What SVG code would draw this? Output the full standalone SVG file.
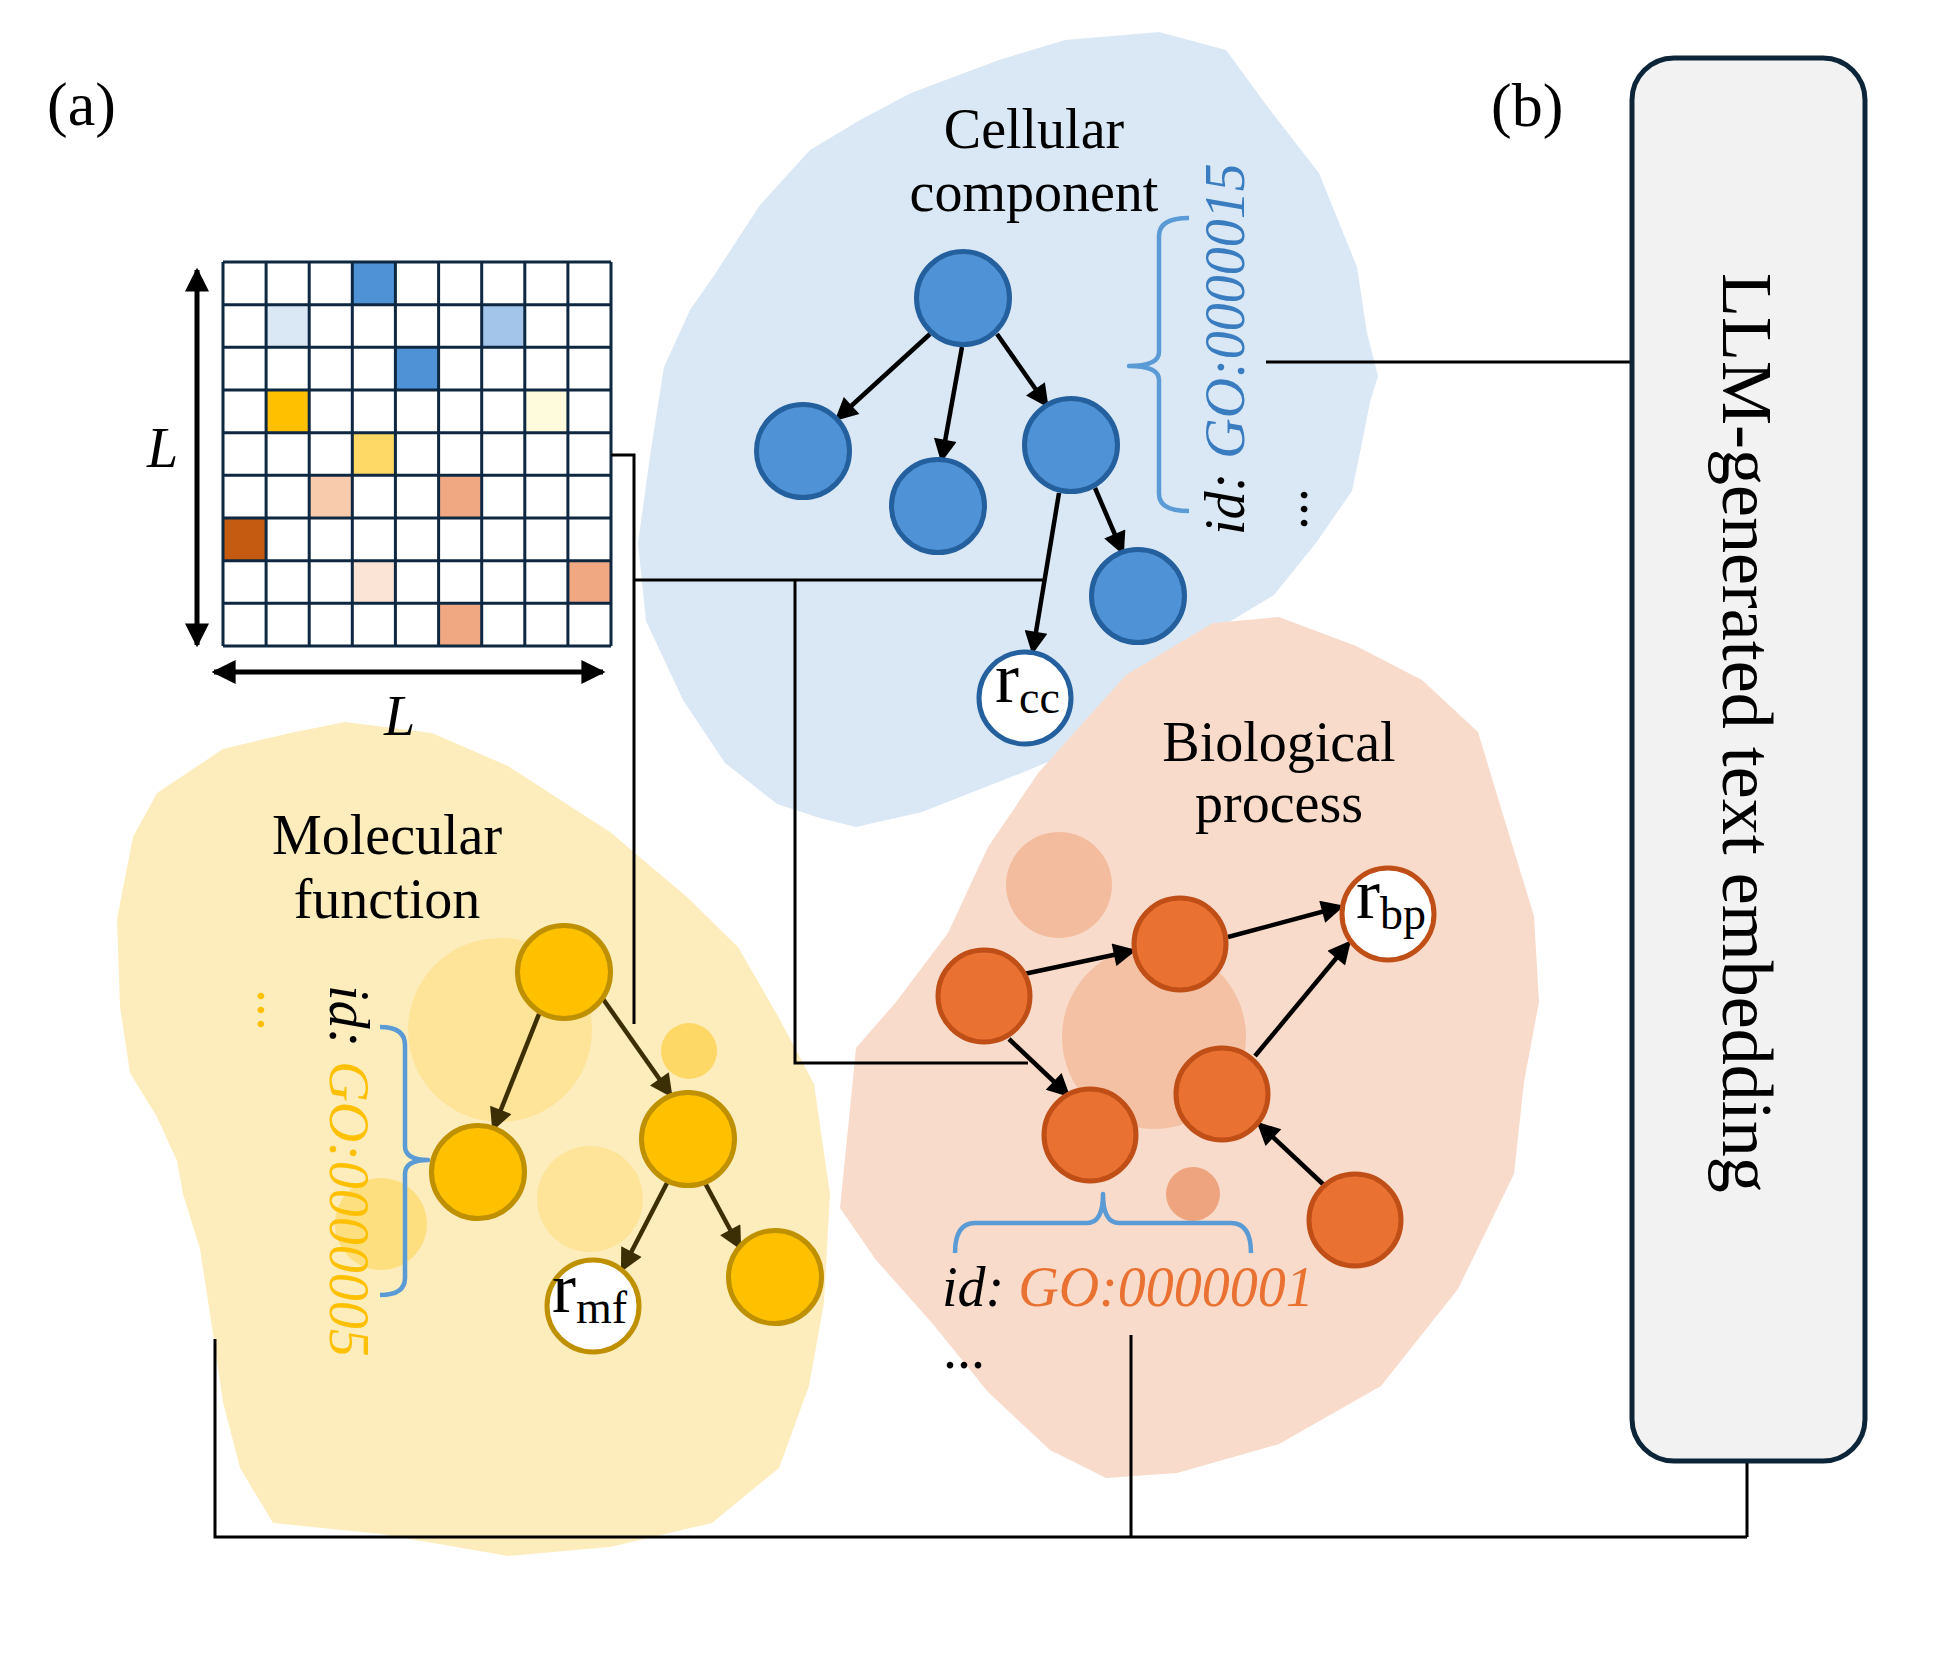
<svg xmlns="http://www.w3.org/2000/svg" width="1956" height="1656" viewBox="0 0 1956 1656">
<style>
text{font-family:"Liberation Serif","Times New Roman",serif;fill:#000}
.lbl{font-size:56px;text-anchor:middle}
.it{font-style:italic}
.conn{fill:none;stroke:#000;stroke-width:3}
.bn{fill:#4f93d6;stroke:#24609e;stroke-width:5}
.yn{fill:#ffc000;stroke:#bf9000;stroke-width:5}
.on{fill:#e97132;stroke:#c04f17;stroke-width:5}
.rn{fill:#fff}
.arr{fill:none;stroke:#000;stroke-width:4.5;marker-end:url(#ah)}
.arrY{fill:none;stroke:#3d2f05;stroke-width:4.5;marker-end:url(#ahY)}
.brace{fill:none;stroke:#5b9bd5;stroke-width:4.5;stroke-linejoin:round}
.g{fill:none;stroke:#0e2841;stroke-width:3}
.r{font-size:72px}
.sub{font-size:46px}
.dots{font-size:56px}
</style>
<defs>
<marker id="ah" viewBox="0 0 10 10" refX="8" refY="5" markerUnits="userSpaceOnUse" markerWidth="28" markerHeight="23" orient="auto"><path d="M0,0 L10,5 L0,10 z" fill="#000"/></marker>
<marker id="ahY" viewBox="0 0 10 10" refX="8" refY="5" markerUnits="userSpaceOnUse" markerWidth="28" markerHeight="23" orient="auto"><path d="M0,0 L10,5 L0,10 z" fill="#3d2f05"/></marker>
<marker id="dh" viewBox="0 0 10 10" refX="9" refY="5" markerUnits="userSpaceOnUse" markerWidth="24" markerHeight="24" orient="auto-start-reverse"><path d="M0,0 L10,5 L0,10 z" fill="#000"/></marker>
</defs>
<rect width="1956" height="1656" fill="#fff"/>

<g id="blobs">
<polygon id="blob-cc" fill="#dae8f5" points="1159,32 1226,50 1270,110 1319,173 1357,267 1367,333 1378,376 1370,402 1363,438 1352,491 1316,543 1274,595 1221,627 1180,680 1100,740 1024,772 922,812 856,827 820,818 777,804 725,763 683,700 646,621 638,543 651,449 664,367 690,310 713,277 760,205 810,150 860,120 911,93 999,60 1065,40"/>
<polygon id="blob-mf" fill="#fdedbd" points="345,722 290,733 223,749 157,793 133,837 117,919 120,1007 130,1073 157,1117 177,1161 183,1194 200,1249 210,1314 223,1402 240,1468 273,1523 381,1534 508,1556 610,1547 712,1523 779,1468 809,1386 824,1303 830,1194 814,1084 779,1018 738,947 687,897 610,832 508,766 432,733"/>
<polygon id="blob-bp" fill="#f8dbca" points="1039,772 988,847 948,933 896,1002 856,1048 851,1099 840,1208 876,1260 932,1323 988,1392 1050,1450 1106,1478 1177,1473 1279,1444 1381,1386 1458,1289 1514,1174 1524,1082 1539,1002 1534,916 1504,818 1478,732 1422,680 1356,646 1279,617 1213,623 1126,675 1065,743"/>
</g>

<g id="bg-circles">
<circle cx="500" cy="1030" r="92" fill="#fde08c" opacity="0.75"/>
<circle cx="689" cy="1051" r="28" fill="#fdd866"/>
<circle cx="590" cy="1199" r="53" fill="#fde08c" opacity="0.75"/>
<circle cx="381" cy="1224" r="46" fill="#fdd866" opacity="0.7"/>
<circle cx="1059" cy="885" r="53" fill="#f4bc9e"/>
<circle cx="1154" cy="1037" r="92" fill="#f4c1a4"/>
<circle cx="1193" cy="1194" r="27" fill="#eea47f"/>
</g>

<g id="matrix">
<rect x="352.3" y="262" width="43.1" height="42.7" fill="#4f93d6"/>
<rect x="266.1" y="304.7" width="43.1" height="42.7" fill="#dae8f6"/>
<rect x="481.7" y="304.7" width="43.1" height="42.7" fill="#a3c5ea"/>
<rect x="395.4" y="347.3" width="43.1" height="42.7" fill="#4f93d6"/>
<rect x="266.1" y="390" width="43.1" height="42.7" fill="#ffc000"/>
<rect x="524.8" y="390" width="43.1" height="42.7" fill="#fefbdc"/>
<rect x="352.3" y="432.7" width="43.1" height="42.7" fill="#ffd966"/>
<rect x="309.2" y="475.3" width="43.1" height="42.7" fill="#f8cbad"/>
<rect x="438.6" y="475.3" width="43.1" height="42.7" fill="#f0a882"/>
<rect x="223" y="518" width="43.1" height="42.7" fill="#c55a11"/>
<rect x="352.3" y="560.7" width="43.1" height="42.7" fill="#fbe3d6"/>
<rect x="567.9" y="560.7" width="43.1" height="42.7" fill="#f0a882"/>
<rect x="438.6" y="603.3" width="43.1" height="42.7" fill="#f0a882"/>
<path class="g" d="M223,262V646M266.1,262V646M309.2,262V646M352.3,262V646M395.4,262V646M438.6,262V646M481.7,262V646M524.8,262V646M567.9,262V646M611,262V646M223,262H611M223,304.7H611M223,347.3H611M223,390H611M223,432.7H611M223,475.3H611M223,518H611M223,560.7H611M223,603.3H611M223,646H611"/>
<line x1="197" y1="270" x2="197" y2="645" stroke="#000" stroke-width="5" marker-start="url(#dh)" marker-end="url(#dh)"/>
<line x1="214" y1="672" x2="603" y2="672" stroke="#000" stroke-width="5" marker-start="url(#dh)" marker-end="url(#dh)"/>
<text class="it" x="147" y="467" font-size="56">L</text>
<text class="it" x="384" y="735" font-size="56">L</text>
</g>

<g id="connectors">
<path class="conn" d="M611,455 H634 V1024"/>
<path class="conn" d="M634,580 H1046"/>
<path class="conn" d="M795,580 V1063 H1028"/>
<path class="conn" d="M1266,362 H1632"/>
<path class="conn" d="M1747,1462 V1537 M215,1339 V1537 H1747 M1131,1335 V1537"/>
</g>

<g id="edges">
<path class="arr" d="M930,334 L838,418"/>
<path class="arr" d="M962,347 L942,458"/>
<path class="arr" d="M997,334 L1046,404"/>
<path class="arr" d="M1059,493 L1033,650"/>
<path class="arr" d="M1095,488 L1122,551"/>
<path class="arrY" d="M539,1014 L494,1127"/>
<path class="arrY" d="M603,999 L670,1094"/>
<path class="arrY" d="M667,1183 L623,1268"/>
<path class="arrY" d="M705,1183 L739,1246"/>
<path class="arr" d="M1024,974 L1132,951"/>
<path class="arr" d="M1228,937 L1340,907"/>
<path class="arr" d="M1009,1039 L1067,1094"/>
<path class="arr" d="M1255,1056 L1348,944"/>
<path class="arr" d="M1325,1186 L1260,1125"/>
</g>

<g id="cc-nodes">
<circle class="bn" cx="963" cy="298" r="46.5"/>
<circle class="bn" cx="803" cy="451" r="46.5"/>
<circle class="bn" cx="938" cy="506" r="46.5"/>
<circle class="bn" cx="1071" cy="445" r="46.5"/>
<circle class="bn" cx="1138" cy="596" r="46.5"/>
<g id="r_cc"><circle class="bn rn" cx="1025" cy="698" r="46"/><text x="995" y="702" class="r">r<tspan class="sub" dy="11">cc</tspan></text></g>
</g>

<g id="mf-nodes">
<circle class="yn" cx="564" cy="972" r="46.5"/>
<circle class="yn" cx="478" cy="1172" r="46.5"/>
<circle class="yn" cx="688" cy="1139" r="46.5"/>
<circle class="yn" cx="775" cy="1277" r="46.5"/>
<g id="r_mf"><circle class="yn rn" cx="593" cy="1306" r="46"/><text x="552" y="1312" class="r">r<tspan class="sub" dy="11">mf</tspan></text></g>
</g>

<g id="bp-nodes">
<circle class="on" cx="984" cy="996" r="46"/>
<circle class="on" cx="1180" cy="944" r="46"/>
<circle class="on" cx="1090" cy="1135" r="46"/>
<circle class="on" cx="1222" cy="1094" r="46"/>
<circle class="on" cx="1355" cy="1220" r="46"/>
<g id="r_bp"><circle class="on rn" cx="1388" cy="914" r="46"/><text x="1356" y="918" class="r">r<tspan class="sub" dy="11">bp</tspan></text></g>
</g>

<g id="braces">
<path class="brace" d="M1189,218 Q1159,218 1159,236 L1159,352 Q1159,366 1129,366 Q1159,366 1159,380 L1159,494 Q1159,511 1189,511"/>
<path class="brace" d="M380,1027 Q405,1027 405,1045 L405,1146 Q405,1160 428,1160 Q405,1160 405,1174 L405,1278 Q405,1295 380,1295"/>
<path class="brace" d="M955,1253 Q955,1223 975,1223 L1087,1223 Q1103,1223 1103,1194 Q1103,1223 1119,1223 L1231,1223 Q1251,1223 1251,1253"/>
</g>

<g id="labels">
<text x="47" y="125" font-size="62">(a)</text>
<text x="1491" y="126" font-size="62">(b)</text>
<text class="lbl" x="1034" y="148">Cellular</text>
<text class="lbl" x="1034" y="211">component</text>
<text class="lbl" x="387" y="854">Molecular</text>
<text class="lbl" x="387" y="918">function</text>
<text class="lbl" x="1279" y="761">Biological</text>
<text class="lbl" x="1279" y="822">process</text>
<text class="it" font-size="56" transform="translate(1244,535) rotate(-90)">id: <tspan fill="#3a7cc0">GO:0000015</tspan></text>
<text class="dots" transform="translate(1307,530) rotate(-90)">...</text>
<text class="it" font-size="56" transform="translate(330,985) rotate(90)">id: <tspan fill="#ffc000">GO:0000005</tspan></text>
<text class="dots" style="fill:#ffc000" transform="translate(258,989) rotate(90)">...</text>
<text class="it" font-size="56" x="942" y="1306">id: <tspan fill="#e97132">GO:0000001</tspan></text>
<text class="dots" x="943" y="1368">...</text>
</g>

<g id="llm-box">
<rect x="1632" y="58" width="233" height="1403" rx="42" ry="42" fill="#f2f2f2" stroke="#0c2538" stroke-width="5"/>
<text font-size="72" transform="translate(1723,273) rotate(90)">LLM-generated text embedding</text>
</g>
</svg>
